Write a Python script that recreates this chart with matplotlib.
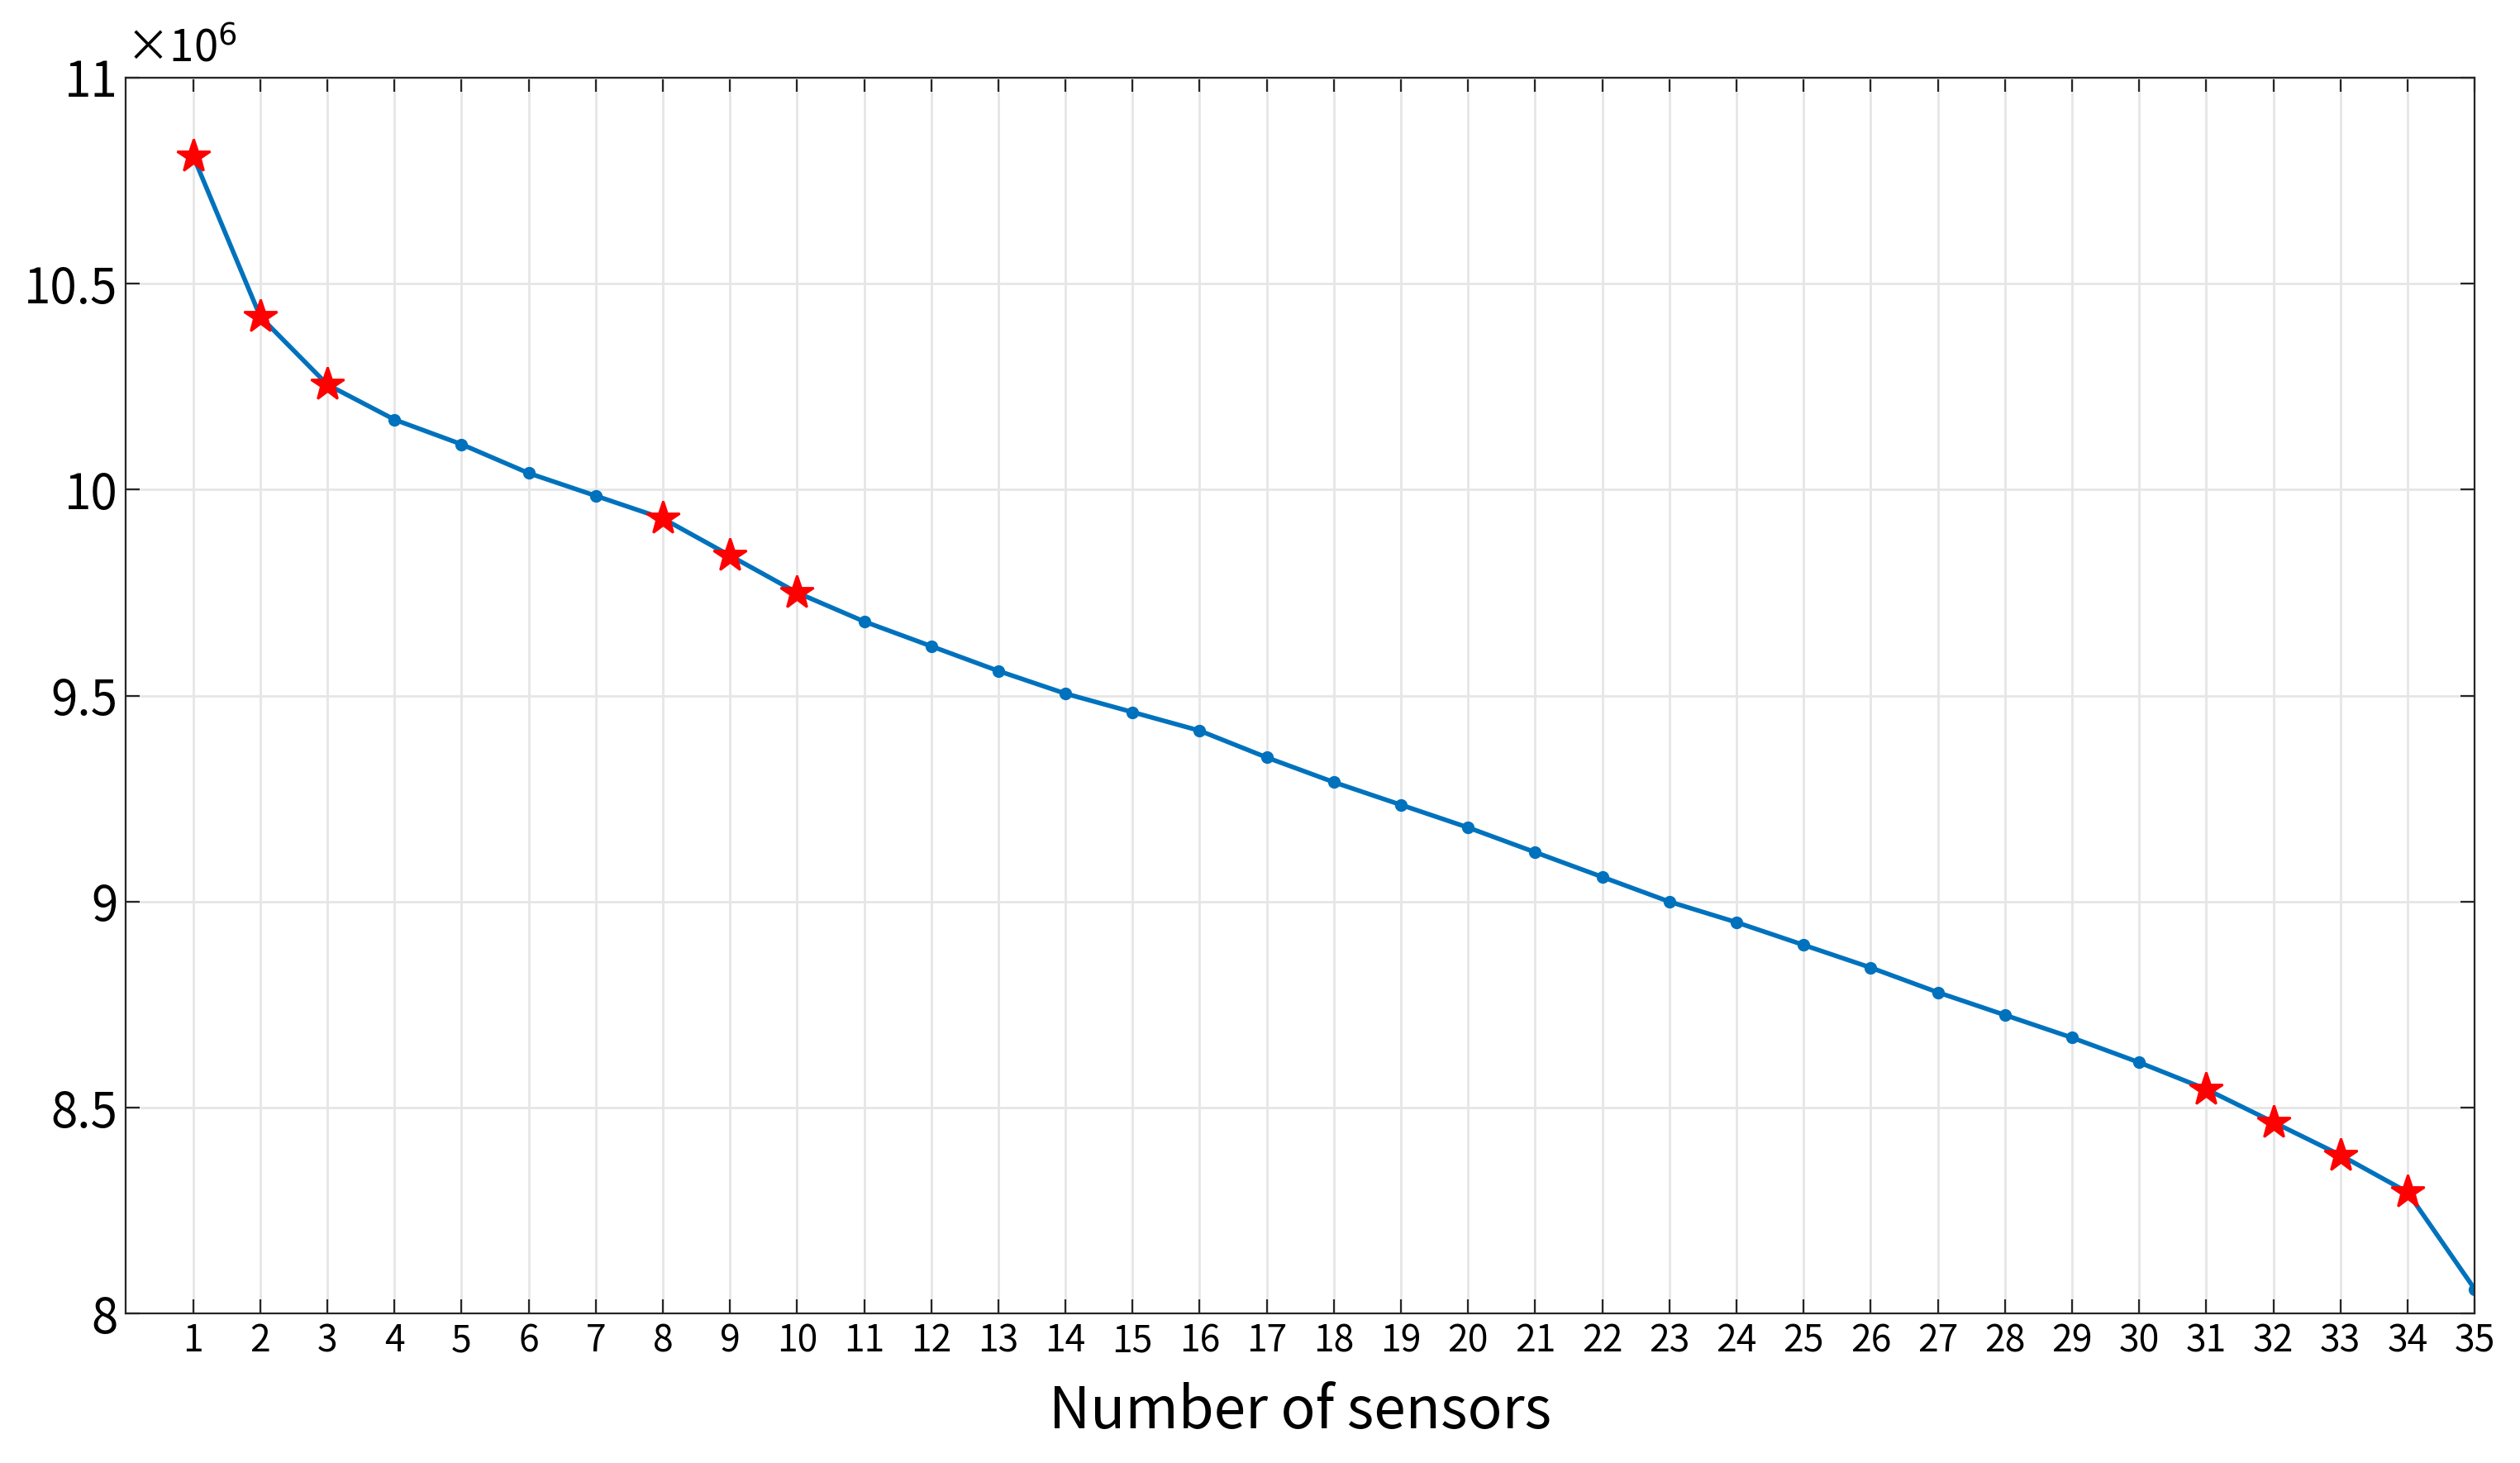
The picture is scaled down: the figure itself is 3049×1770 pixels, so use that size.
import matplotlib
matplotlib.use("Agg")
import matplotlib.pyplot as plt

n_sensors = list(range(1, 36))
values = [10.81, 10.42, 10.255, 10.17, 10.11, 10.04, 9.985, 9.93, 9.84, 9.75,
          9.68, 9.62, 9.56, 9.505, 9.46, 9.415, 9.35, 9.29, 9.235, 9.18,
          9.12, 9.06, 9.0, 8.95, 8.895, 8.84, 8.78, 8.725, 8.67, 8.61,
          8.545, 8.465, 8.385, 8.295, 8.06]
star_idx = [1, 2, 3, 8, 9, 10, 31, 32, 33, 34]

plt.rcParams['font.family'] = ['Noto Sans CJK KR', 'DejaVu Sans']

fig = plt.figure(figsize=(15.245, 8.85), dpi=200)
ax = fig.add_axes([0.05, 0.102, 0.932, 0.845])
blue = (0, 0.447, 0.741)
ax.plot(n_sensors, values, "-o", color=blue, lw=2, ms=4.5)
sx = star_idx
sy = [values[i - 1] for i in star_idx]
ax.plot(sx, sy, "*", color="red", ms=15, mec="red", zorder=5)

ax.set_xlim(0, 35)
ax.set_ylim(8, 11)
ax.set_xticks(n_sensors)
ax.set_yticks([8, 8.5, 9, 9.5, 10, 10.5, 11])
ax.set_yticklabels(["8", "8.5", "9", "9.5", "10", "10.5", "11"], fontsize=21)
ax.tick_params(axis="x", labelsize=16)
ax.tick_params(direction="in", top=True, right=True, length=6, color="#262626")
ax.grid(True, color="#e6e6e6", lw=1)
for s in ax.spines.values():
    s.set_color("#262626")
ax.set_xlabel("Number of sensors", fontsize=25, labelpad=10)
ax.text(0, 1.005, "×10$^{6}$", transform=ax.transAxes, fontsize=19, va="bottom")

fig.savefig("out.png", dpi=200)
